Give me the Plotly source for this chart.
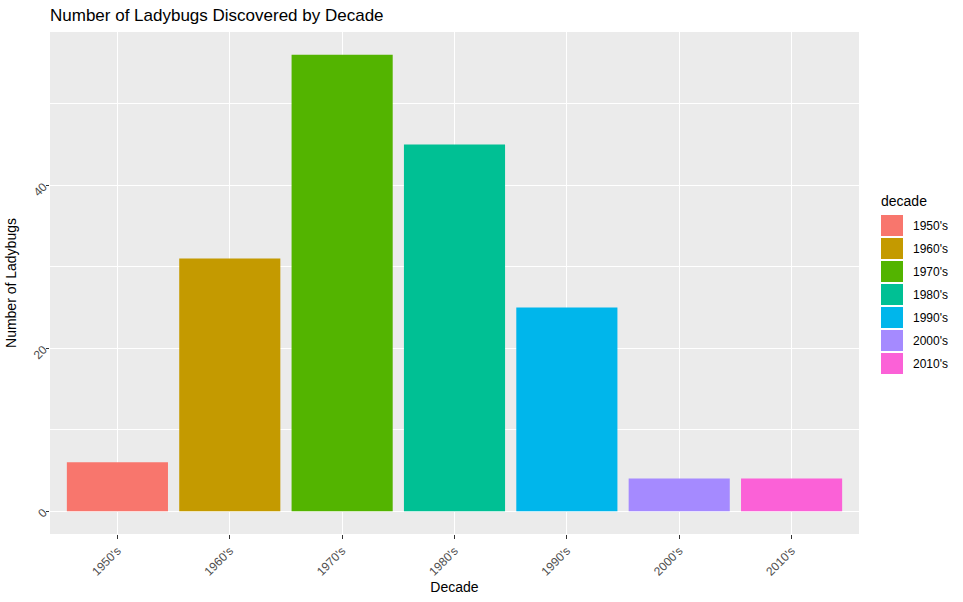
import plotly.graph_objects as go

decades = ["1950's", "1960's", "1970's", "1980's", "1990's", "2000's", "2010's"]
counts = [6, 31, 56, 45, 25, 4, 4]
colors = ["#F8766D", "#C49A00", "#53B400", "#00C094", "#00B6EB", "#A58AFF", "#FB61D7"]

W, H = 963, 602
ML, MR, MT, MB = 50, 104, 32, 68
PW, PH = W - ML - MR, H - MT - MB


def px_x(x):
    return (x - ML) / PW


def px_y(y):
    return 1 - (y - MT) / PH


fig = go.Figure()
for d, c, col in zip(decades, counts, colors):
    fig.add_trace(
        go.Bar(
            x=[d],
            y=[c],
            name=d,
            marker=dict(color=col, line=dict(width=0)),
            width=0.9,
            showlegend=False,
        )
    )

# ggplot-style legend: big square keys
fig.add_annotation(
    text="decade", xref="paper", yref="paper",
    x=px_x(879), y=px_y(201),
    xanchor="left", yanchor="middle", showarrow=False,
    font=dict(size=14, color="black"),
)
for i, (d, col) in enumerate(zip(decades, colors)):
    top = 215 + 23 * i
    fig.add_shape(
        type="rect", xref="paper", yref="paper",
        x0=px_x(881), x1=px_x(903),
        y0=px_y(top), y1=px_y(top + 21),
        fillcolor=col, line=dict(width=0),
    )
    fig.add_annotation(
        text=d, xref="paper", yref="paper",
        x=px_x(911), y=px_y(top + 11),
        xanchor="left", yanchor="middle", showarrow=False,
        font=dict(size=12, color="black"),
    )

fig.update_layout(
    width=W,
    height=H,
    margin=dict(l=ML, r=MR, t=MT, b=MB),
    plot_bgcolor="#EBEBEB",
    paper_bgcolor="white",
    font=dict(family="Liberation Sans, Arial", color="black"),
    title=dict(
        text="Number of Ladybugs Discovered by Decade",
        x=50 / W,
        xanchor="left",
        y=1 - 15 / H,
        yanchor="middle",
        font=dict(size=17, color="black"),
    ),
    showlegend=False,
    bargap=0.1,
)

fig.update_xaxes(
    range=[-0.6, 6.6],
    automargin=False,
    showgrid=True,
    gridcolor="white",
    gridwidth=1.2,
    ticks="outside",
    ticklen=4,
    tickcolor="#333333",
    tickangle=-45,
    tickfont=dict(size=12, color="#4D4D4D"),
    title=dict(text="Decade", font=dict(size=14), standoff=4),
    zeroline=False,
)

fig.update_yaxes(
    range=[-2.8, 58.8],
    automargin=False,
    tickvals=[0, 20, 40],
    showgrid=True,
    gridcolor="white",
    gridwidth=1.2,
    minor=dict(tickvals=[10, 30, 50], showgrid=True, gridcolor="white", gridwidth=0.6),
    ticks="outside",
    ticklen=3,
    tickcolor="#333333",
    tickangle=-45,
    tickfont=dict(size=12, color="#4D4D4D"),
    title=dict(text="Number of Ladybugs", font=dict(size=14), standoff=10),
    zeroline=False,
)

fig.write_html(
    "out.html",
    config={"displayModeBar": False},
    post_script="document.body.style.margin='0';",
)
